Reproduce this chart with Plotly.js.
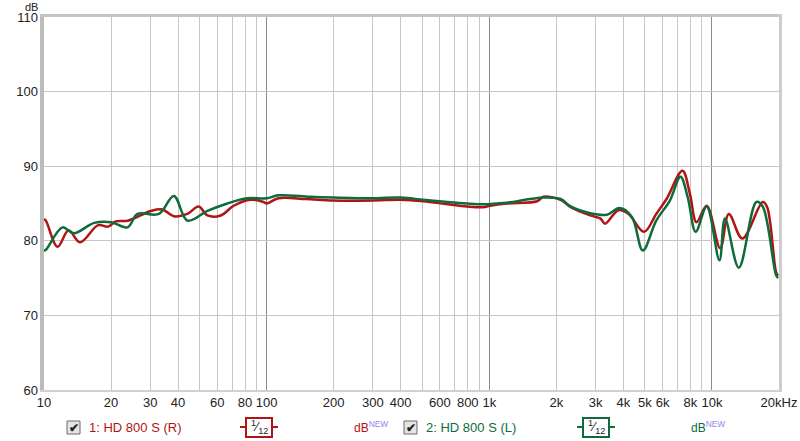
<!DOCTYPE html>
<html>
<head>
<meta charset="utf-8">
<script src="https://cdn.plot.ly/plotly-3.0.1.min.js"></script>
<style>
  html, body { margin: 0; padding: 0; background: #fff; }
  #chart { width: 800px; height: 441px; }
</style>
</head>
<body>
<div id="chart"></div>
<script>
'use strict';
(function () {
  window.addEventListener('load', init);

  // Frequency response (Hz, dB)
  let rightFreq = [10, 10.2, 11.5, 12.9, 14.5, 17.5, 19.4, 21, 23.8, 30.2, 34, 38.3, 44, 49.5, 54.2,
    62.2, 71.1, 84.9, 96.9, 100, 113, 150, 199, 300, 398, 505, 650, 794, 936, 1007, 1200, 1640,
    1750, 2090, 2320, 2840, 3150, 3310, 3800, 4220, 4950, 5620, 6250, 7370, 7960, 8520, 9470,
    10890, 11900, 13690, 16900, 17700, 19400, 19800];
  let rightDb = [82.9, 82.7, 79.2, 81.4, 79.8, 82.1, 81.9, 82.6, 82.7, 84.0, 84.2, 83.3, 83.6, 84.6, 83.4,
    83.4, 84.7, 85.5, 85.2, 85.0, 85.7, 85.6, 85.4, 85.4, 85.5, 85.3, 84.9, 84.6, 84.5, 84.7, 85.0, 85.3,
    85.9, 85.5, 84.5, 83.4, 83.0, 82.3, 84.1, 83.6, 81.2, 83.6, 85.6, 89.4, 86.3, 82.5, 84.7,
    79.0, 83.6, 80.3, 85.2, 84.5, 75.8, 75.3];

  let leftFreq = [10, 10.2, 12.1, 13.6, 16.8, 20, 23.7, 26.3, 32.8, 38.3, 44.1, 54.2, 66.6, 81.9,
    100, 113, 157, 199, 300, 400, 505, 650, 794, 936, 1080, 1200, 1750, 2090, 2320, 2840, 3370,
    3850, 4370, 4890, 5620, 6470, 7220, 7790, 8450, 9470, 10800, 11440, 13200, 15820, 16900,
    19400, 19800];
  let leftDb = [78.7, 78.8, 81.8, 81.0, 82.4, 82.5, 81.8, 83.6, 83.6, 86.0, 82.7, 84.0, 85.0, 85.7,
    85.7, 86.1, 85.9, 85.8, 85.7, 85.8, 85.5, 85.2, 85.0, 84.9, 85.0, 85.1, 85.8, 85.6, 84.6, 83.7, 83.5,
    84.4, 83.2, 78.7, 82.7, 85.4, 88.6, 85.8, 81.2, 84.6, 77.4, 83.0, 76.4, 85.2, 84.6,
    75.4, 75.0];

  let tickVals = [10, 20, 30, 40, 60, 80, 100, 200, 300, 400, 600, 800, 1000, 2000, 3000, 4000,
    5000, 6000, 8000, 10000, 20000];
  let tickText = ['10', '20', '30', '40', '60', '80', '100', '200', '300', '400', '600', '800', '1k',
    '2k', '3k', '4k', '5k', '6k', '8k', '10k', '20kHz'];

  let RED = '#b01414';
  let GREEN = '#0e6b3c';

  // plot area in pixels
  let L = 44, R = 779, T = 17, B = 390;
  function px(x) { return (x - L) / (R - L); }
  function py(y) { return (B - y) / (B - T); }

  function legendItem(x0, label, color) {
    let shapes = [
      { type: 'rect', xref: 'paper', yref: 'paper', x0: px(x0), x1: px(x0 + 13), y0: py(434), y1: py(421),
        line: { color: '#6a6a6a', width: 1 }, fillcolor: '#e4e4e4' },
      { type: 'line', xref: 'paper', yref: 'paper', x0: px(x0 + 173), x1: px(x0 + 211), y0: py(427), y1: py(427),
        line: { color: color, width: 2 } },
      { type: 'rect', xref: 'paper', yref: 'paper', x0: px(x0 + 179), x1: px(x0 + 205), y0: py(437), y1: py(418),
        line: { color: color, width: 2 }, fillcolor: '#ffffff' }
    ];
    let notes = [
      { text: '<b>✔</b>', x: px(x0 + 6.5), y: py(427.5), font: { size: 12, color: '#222' } },
      { text: label, x: px(x0 + 20), y: py(427), xanchor: 'left', font: { size: 13, color: color } },
      { text: '<sup>1</sup>⁄<sub>12</sub>', x: px(x0 + 192), y: py(427), font: { size: 13, color: '#222' } },
      { text: 'dB<sup><span style="color:#8a8aee">NEW</span></sup>', x: px(x0 + 285), y: py(427),
        xanchor: 'left', font: { size: 12, color: color } }
    ];
    return { shapes: shapes, notes: notes };
  }

  function init() {
    let right = {
      x: rightFreq,
      y: rightDb,
      mode: 'lines',
      type: 'scatter',
      line: { color: RED, width: 2.5, shape: 'spline', smoothing: 1 },
      hoverinfo: 'skip'
    };
    let left = {
      x: leftFreq,
      y: leftDb,
      mode: 'lines',
      type: 'scatter',
      line: { color: GREEN, width: 2.5, shape: 'spline', smoothing: 1 },
      hoverinfo: 'skip'
    };

    let item1 = legendItem(67, '1: HD 800 S (R)', RED);
    let item2 = legendItem(404, '2: HD 800 S (L)', GREEN);

    let frame = [
      { type: 'rect', xref: 'paper', yref: 'paper', x0: px(40), x1: px(44), y0: 0, y1: py(14),
        line: { width: 0 }, fillcolor: '#bcbcbc' },
      { type: 'rect', xref: 'paper', yref: 'paper', x0: px(40), x1: px(781), y0: py(17), y1: py(14),
        line: { width: 0 }, fillcolor: '#c4c4c4' },
      { type: 'rect', xref: 'paper', yref: 'paper', x0: px(779), x1: px(782), y0: 0, y1: py(14),
        line: { width: 0 }, fillcolor: '#cdcdcd' },
      { type: 'rect', xref: 'paper', yref: 'paper', x0: px(40), x1: px(782), y0: py(392), y1: py(390),
        line: { width: 0 }, fillcolor: '#d0d0d0' }
    ];

    let notes = [
      { text: 'dB', x: px(31), y: py(7), font: { size: 11, color: '#222' }, borderpad: 0 }
    ].concat(item1.notes, item2.notes).map(function (a) {
      a.xref = 'paper';
      a.yref = 'paper';
      a.showarrow = false;
      if (!a.xanchor) a.xanchor = 'center';
      a.yanchor = 'middle';
      return a;
    });

    let xRange = [1, Math.log10(20000)];

    let layout = {
      width: 800,
      height: 441,
      margin: { l: L, r: 800 - R, t: T, b: 441 - B },
      paper_bgcolor: '#ffffff',
      plot_bgcolor: '#ffffff',
      showlegend: false,
      font: { family: 'Liberation Sans, Arial, sans-serif', size: 12, color: '#222' },
      xaxis: {
        type: 'log',
        range: xRange,
        dtick: 1,
        showgrid: true,
        gridcolor: '#8c8c8c',
        gridwidth: 1,
        showticklabels: false,
        ticks: '',
        zeroline: false,
        showline: false,
        minor: { dtick: 'D1', showgrid: true, gridcolor: '#c6c6c6', gridwidth: 1, ticks: '' }
      },
      xaxis2: {
        type: 'log',
        range: xRange,
        overlaying: 'x',
        side: 'bottom',
        tickmode: 'array',
        tickvals: tickVals,
        ticktext: tickText,
        showgrid: false,
        ticks: '',
        ticklen: 0,
        ticklabelstandoff: 3,
        zeroline: false,
        tickfont: { size: 13, color: '#222' }
      },
      yaxis: {
        range: [60, 110],
        dtick: 10,
        showgrid: true,
        gridcolor: '#c6c6c6',
        zeroline: false,
        ticks: '',
        ticklen: 0,
        ticklabelstandoff: 5,
        tickfont: { size: 13, color: '#222' }
      },
      shapes: frame.concat(item1.shapes, item2.shapes),
      annotations: notes
    };

    // invisible trace to carry the label axis
    let labelAxis = { x: [10, 20000], y: [60, 60], xaxis: 'x2', mode: 'none', type: 'scatter', hoverinfo: 'skip' };

    Plotly.newPlot('chart', [labelAxis, right, left], layout, { displayModeBar: false, staticPlot: true });
  }
})();
</script>
</body>
</html>
